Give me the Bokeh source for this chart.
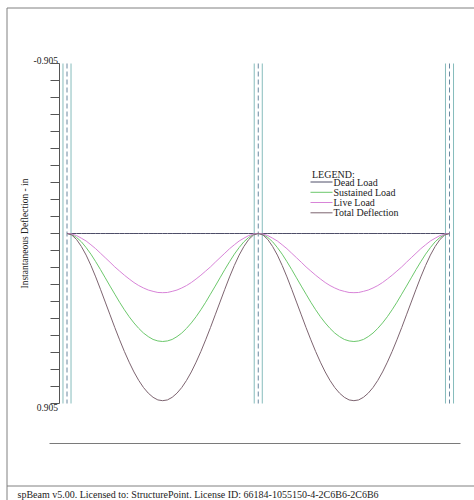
import numpy as np
from bokeh.plotting import figure
from bokeh.models import Range1d, LinearAxis, FixedTicker, CustomJSTickFormatter
from bokeh.core.properties import value
from bokeh.embed import file_html
from bokeh.resources import INLINE

# ---------------- data ----------------
# stations along one 20 ft span (every 0.5 ft); both spans look identical
span_station_ft = [0, 0.5, 1, 1.5, 2, 2.5, 3, 3.5, 4, 4.5, 5, 5.5, 6, 6.5, 7, 7.5, 8, 8.5, 9, 9.5, 10,
                   10.5, 11, 11.5, 12, 12.5, 13, 13.5, 14, 14.5, 15, 15.5, 16, 16.5, 17, 17.5, 18,
                   18.5, 19, 19.5, 20]
span_length_ft = 20
supports_ft = [0, 20, 40]

span_dead = [0, 0, 0, 0, 0, 0, 0, 0, 0, 0, 0, 0, 0, 0, 0, 0, 0, 0, 0, 0, 0,
             0, 0, 0, 0, 0, 0, 0, 0, 0, 0, 0, 0, 0, 0, 0, 0, 0, 0, 0, 0]
span_sustained = [0, 0.005, 0.021, 0.044, 0.075, 0.110, 0.150, 0.192, 0.236, 0.280, 0.323,
                  0.366, 0.406, 0.443, 0.476, 0.505, 0.530, 0.549, 0.564, 0.572, 0.575,
                  0.572, 0.564, 0.549, 0.530, 0.505, 0.476, 0.443, 0.406, 0.366, 0.323,
                  0.280, 0.236, 0.192, 0.150, 0.110, 0.075, 0.044, 0.021, 0.005, 0]
span_live = [0, 0.003, 0.011, 0.025, 0.040, 0.060, 0.081, 0.105, 0.129, 0.153, 0.178,
             0.200, 0.222, 0.242, 0.261, 0.277, 0.290, 0.301, 0.308, 0.314, 0.315,
             0.314, 0.308, 0.301, 0.290, 0.277, 0.261, 0.242, 0.222, 0.200, 0.178,
             0.153, 0.129, 0.105, 0.081, 0.060, 0.040, 0.025, 0.011, 0.003, 0]
span_total = [0, 0.008, 0.032, 0.069, 0.115, 0.170, 0.231, 0.297, 0.365, 0.433, 0.501,
              0.566, 0.628, 0.685, 0.737, 0.782, 0.820, 0.850, 0.872, 0.886, 0.890,
              0.886, 0.872, 0.850, 0.820, 0.782, 0.737, 0.685, 0.628, 0.566, 0.501,
              0.433, 0.365, 0.297, 0.231, 0.170, 0.115, 0.069, 0.032, 0.008, 0]

legend_title = "LEGEND:"
legend_labels = ["Dead Load", "Sustained Load", "Live Load", "Total Deflection"]
y_limits = [-0.905, 0.905]
tick_labels = ["-0.905", "0.905"]
n_ticks = 21
axis_title = "Instantaneous Deflection - in"
footer_text = "spBeam v5.00. Licensed to: StructurePoint. License ID: 66184-1055150-4-2C6B6-2C6B6"

# two identical spans laid end to end
station_ft = span_station_ft + [s + span_length_ft for s in span_station_ft[1:]]
series = [span_dead + span_dead[1:], span_sustained + span_sustained[1:],
          span_live + span_live[1:], span_total + span_total[1:]]

# ---------------- layout helpers (pixel -> data) ----------------
W, H = 474, 500
X0_PX, PX_PER_FT = 66.5, 9.5625
Y_PER_PX = (y_limits[1] - y_limits[0]) / 340.0
Y_TOP = y_limits[0] - 63 * Y_PER_PX


def fx(px):
    return (px - X0_PX) / PX_PER_FT


def fy(py):
    return Y_TOP + py * Y_PER_PX


SERIF = value("Liberation Serif")
TXT = "#222222"
colors = ["#4e4e68", "#6cc86c", "#d884d8", "#7d6470"]

p = figure(width=W, height=H, output_backend="svg", toolbar_location=None,
           x_range=Range1d(fx(0), fx(W)), y_range=Range1d(fy(H), fy(0)),
           x_axis_type=None, y_axis_type=None, min_border=0,
           outline_line_color=None, background_fill_color="white",
           border_fill_color="white")

# y axis (inverted, drawn at a fixed location inside the frame)
yaxis = LinearAxis(fixed_location=fx(58.5), bounds=(y_limits[0], y_limits[1]),
                   ticker=FixedTicker(ticks=list(np.linspace(y_limits[0], y_limits[1], n_ticks))),
                   formatter=CustomJSTickFormatter(code="return ''"),
                   major_tick_out=9, major_tick_in=0, minor_tick_line_color=None,
                   axis_line_color="#555555", major_tick_line_color="#555555")
p.add_layout(yaxis, "left")

# bottom base line (x axis without ticks)
xaxis = LinearAxis(fixed_location=fy(443), bounds=(fx(49), fx(460)),
                   formatter=CustomJSTickFormatter(code="return ''"),
                   major_tick_line_color=None, minor_tick_line_color=None,
                   axis_line_color="#7a7a7a")
p.add_layout(xaxis, "below")

# page frame: left and top borders, footer separator
p.segment(x0=[fx(6.5), fx(6.5), fx(6.5)], x1=[fx(6.5), fx(W), fx(W)],
          y0=[fy(7.5), fy(7.5), fy(485.5)], y1=[fy(H), fy(7.5), fy(485.5)],
          line_color="#808080", line_width=1)

# supports (columns)
off = 0.42
p.segment(x0=[s - off for s in supports_ft], x1=[s - off for s in supports_ft],
          y0=y_limits[0], y1=y_limits[1], line_color="#86bcbc", line_width=1)
p.segment(x0=[s + off for s in supports_ft], x1=[s + off for s in supports_ft],
          y0=y_limits[0], y1=y_limits[1], line_color="#86bcbc", line_width=1)
p.segment(x0=supports_ft, x1=supports_ft, y0=y_limits[0], y1=y_limits[1],
          line_color="#6a88a0", line_width=1, line_dash="5 3")

# deflection curves
for vals, c in zip(series, colors):
    p.line(station_ft, vals, line_color=c, line_width=1)

# tick labels
p.text(x=[fx(57.5)], y=[y_limits[0]], text=[tick_labels[0]], text_align="right",
       text_baseline="bottom", text_font=SERIF, text_font_size="9.5px", text_color=TXT)
p.text(x=[fx(57.5)], y=[y_limits[1]], text=[tick_labels[1]], text_align="right",
       text_baseline="top", text_font=SERIF, text_font_size="9.5px", text_color=TXT)

# axis title
p.text(x=[fx(24)], y=[0.0], text=[axis_title], angle=np.pi / 2, text_align="center",
       text_baseline="middle", text_font=SERIF, text_font_size="9.5px", text_color=TXT)

# legend (manual)
leg_rows = [181.5, 191.8, 202.0, 212.3]
p.text(x=[fx(311.5)], y=[fy(174)], text=[legend_title], text_align="left",
       text_baseline="alphabetic", text_font=SERIF, text_font_size="10px", text_color=TXT)
for lab, c, ry in zip(legend_labels, colors, leg_rows):
    p.segment(x0=[fx(310)], x1=[fx(332)], y0=[fy(ry)], y1=[fy(ry)], line_color=c, line_width=1)
    p.text(x=[fx(333)], y=[fy(ry)], text=[lab], text_align="left", text_baseline="middle",
           text_font=SERIF, text_font_size="10px", text_color=TXT)

# footer
p.text(x=[fx(17)], y=[fy(488)], text=[footer_text], text_align="left", text_baseline="top",
       text_font=SERIF, text_font_size="10px", text_color=TXT)

open("out.html", "w").write(file_html(p, INLINE))
